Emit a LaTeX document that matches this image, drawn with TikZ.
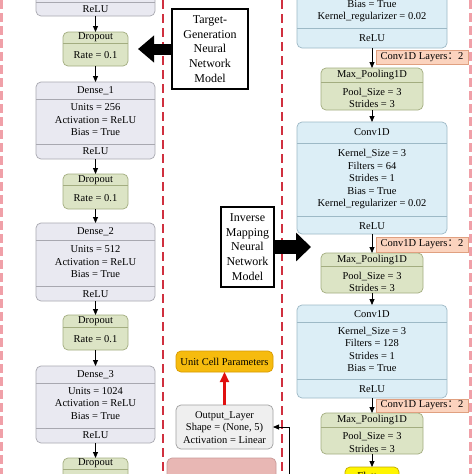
\documentclass[tikz,border=0pt]{standalone}
\usepackage{fontspec}
\setmainfont{Liberation Serif}
\newfontfamily\cjkf{Noto Sans CJK SC}
\usetikzlibrary{arrows.meta}
\definecolor{densefill}{HTML}{E9E9F1}
\definecolor{densedraw}{HTML}{A8A8B0}
\definecolor{dropfill}{HTML}{DCE4C5}
\definecolor{dropdraw}{HTML}{A3AD80}
\definecolor{convfill}{HTML}{DCEEF6}
\definecolor{convdraw}{HTML}{9DB9C6}
\definecolor{labfill}{HTML}{FBD3BE}
\definecolor{labdraw}{HTML}{E0A080}
\definecolor{outfill}{HTML}{EFEFEF}
\definecolor{outdraw}{HTML}{A0A0A0}
\definecolor{ucfill}{HTML}{F6BB0E}
\definecolor{ucdraw}{HTML}{D89A00}
\definecolor{ttfill}{HTML}{E8B7B4}
\definecolor{ttdraw}{HTML}{C99A98}
\definecolor{flatfill}{HTML}{FFF500}
\definecolor{flatdraw}{HTML}{C0A800}
\definecolor{reddash}{HTML}{D0303F}
\definecolor{pinkdash}{HTML}{F0A0A8}
\definecolor{redarr}{HTML}{E01010}
\begin{document}
\begin{tikzpicture}[x=1pt,y=-1pt,
  box/.style={rounded corners=5pt, line width=0.7pt, inner sep=0pt, outer sep=0pt},
  densebox/.style={box, draw=densedraw, fill=densefill, minimum width=119pt},
  dropbox/.style={box, draw=dropdraw, fill=dropfill, minimum width=65pt},
  convbox/.style={box, draw=convdraw, fill=convfill, minimum width=150pt},
  poolbox/.style={box, draw=dropdraw, fill=dropfill, minimum width=102pt},
  labbox/.style={draw=labdraw, fill=labfill, line width=0.7pt, minimum width=92pt, inner sep=0pt, font=\fontsize{10.5}{12.5}\selectfont},
  txt/.style={align=center, inner sep=0pt, font=\fontsize{10.5}{12.5}\selectfont},
  bigtxt/.style={draw=black, line width=1.1pt, align=center, inner sep=0pt, font=\fontsize{12}{14.6}\selectfont},
  sepd/.style={draw=densedraw, line width=0.7pt},
  sepg/.style={draw=dropdraw, line width=0.7pt},
  sepc/.style={draw=convdraw, line width=0.7pt},
  arr/.style={draw=black, line width=0.8pt, -{Triangle[length=6pt,width=5pt]}},
  bigarr/.style={draw=black, line width=11pt, -{Triangle[length=16pt,width=26pt]}},
  redarrow/.style={draw=redarr, line width=2.2pt, -{Triangle[length=10pt,width=9pt]}},
  reddashed/.style={draw=reddash, line width=1.3pt, dash pattern=on 9pt off 5pt},
  pinkdashed/.style={draw=pinkdash, line width=3pt, dash pattern=on 9pt off 4pt}
]
\useasboundingbox (0,0) rectangle (474,474);
\clip (0,0) rectangle (474,474);
\fill[white] (0,0) rectangle (474,474);

% dashed separators
\draw[pinkdashed] (1.5,0) -- (1.5,474);
\draw[pinkdashed] (470.5,0) -- (470.5,474);
\draw[reddashed] (163,0) -- (163,474);
\draw[reddashed] (282,0) -- (282,474);

%%%%% LEFT COLUMN
\node[densebox, minimum height=76pt] (D0) at (95.5,-22) {};
\draw[sepd] (36,2) -- (155,2);
\node[txt] (D0r) at (95.5,9) {ReLU};

\node[dropbox, minimum height=34pt] (DO1) at (95.5,49) {};
\node[txt] (DO1t) at (95.5,37.5) {Dropout};
\draw[sepg] (63,43.5) -- (128,43.5);
\node[txt] (DO1b) at (95.5,55.5) {Rate = 0.1};

\node[densebox, minimum height=77pt] (D1) at (95.5,120.5) {};
\node[txt] (D1t) at (95.5,91) {Dense\_1};
\draw[sepd] (36,99) -- (155,99);
\node[txt] (D1b) at (95.5,120) {Units = 256\\Activation = ReLU\\Bias = True};
\draw[sepd] (36,144) -- (155,144);
\node[txt] (D1r) at (95.5,151.5) {ReLU};

\node[dropbox, minimum height=35pt] (DO2) at (95.5,191.5) {};
\node[txt] (DO2t) at (95.5,180) {Dropout};
\draw[sepg] (63,185.5) -- (128,185.5);
\node[txt] (DO2b) at (95.5,198) {Rate = 0.1};

\node[densebox, minimum height=78pt] (D2) at (95.5,262) {};
\node[txt] (D2t) at (95.5,232) {Dense\_2};
\draw[sepd] (36,240) -- (155,240);
\node[txt] (D2b) at (95.5,262) {Units = 512\\Activation = ReLU\\Bias = True};
\draw[sepd] (36,286) -- (155,286);
\node[txt] (D2r) at (95.5,294) {ReLU};

\node[dropbox, minimum height=35pt] (DO3) at (95.5,332.5) {};
\node[txt] (DO3t) at (95.5,321) {Dropout};
\draw[sepg] (63,327) -- (128,327);
\node[txt] (DO3b) at (95.5,339.5) {Rate = 0.1};

\node[densebox, minimum height=77pt] (D3) at (95.5,404.5) {};
\node[txt] (D3t) at (95.5,375) {Dense\_3};
\draw[sepd] (36,383) -- (155,383);
\node[txt] (D3b) at (95.5,403.5) {Units = 1024\\Activation = ReLU\\Bias = True};
\draw[sepd] (36,428) -- (155,428);
\node[txt] (D3r) at (95.5,435.5) {ReLU};

\node[dropbox, minimum height=42pt] (DO4) at (95.5,479) {};
\node[txt] (DO4t) at (95.5,463.5) {Dropout};
\draw[sepg] (63,469.5) -- (128,469.5);

\draw[arr] (D0) -- (DO1);
\draw[arr] (DO1) -- (D1);
\draw[arr] (D1) -- (DO2);
\draw[arr] (DO2) -- (D2);
\draw[arr] (D2) -- (DO3);
\draw[arr] (DO3) -- (D3);
\draw[arr] (D3) -- (DO4);

%%%%% MIDDLE
\node[bigtxt, minimum width=76pt, minimum height=80pt] (TG) at (210,49) {Target-\\Generation\\Neural\\Network\\Model};
\coordinate (tgtip) at (138,49);
\draw[bigarr] (TG.west) -- (tgtip);

\node[bigtxt, minimum width=53pt, minimum height=80pt] (IM) at (247.5,247) {Inverse\\Mapping\\Neural\\Network\\Model};
\coordinate (imtip) at (311,247);
\draw[bigarr, line width=14pt, -{Triangle[length=15pt,width=28pt]}] (IM.east) -- (imtip);

\node[box, draw=ucdraw, fill=ucfill, minimum width=97pt, minimum height=21pt, txt] (UC) at (224.5,361.5) {Unit Cell Parameters};
\node[box, draw=outdraw, fill=outfill, minimum width=97pt, minimum height=44pt] (OL) at (224.5,427) {};
\node[txt] (OLt) at (224.5,427.5) {Output\_Layer\\Shape = (None, 5)\\Activation = Linear};
\draw[redarrow] (OL.north) -- (UC.south);

\node[box, draw=ttdraw, fill=ttfill, minimum width=109pt, minimum height=42pt] (TT) at (221.5,479) {};

\coordinate (fb) at (289,480);
\draw[arr] (fb) |- (OL.east);

%%%%% RIGHT COLUMN
\node[convbox, minimum height=108pt] (C0) at (372,-6) {};
\node[txt] (C0b) at (372,11) {Bias = True\\Kernel\_regularizer = 0.02};
\draw[sepc] (297,28) -- (447,28);
\node[txt] (C0r) at (372,38) {ReLU};

\node[poolbox, minimum height=42pt] (MP1) at (372,89) {};
\node[txt] (MP1t) at (372,75) {Max\_Pooling1D};
\draw[sepg] (321,82) -- (423,82);
\node[txt] (MP1b) at (372,98) {Pool\_Size = 3\\Strides = 3};

\node[convbox, minimum height=112pt] (C1) at (372,178) {};
\node[txt] (C1t) at (372,132) {Conv1D};
\draw[sepc] (297,143) -- (447,143);
\node[txt] (C1b) at (372,179) {Kernel\_Size = 3\\Filters = 64\\Strides = 1\\Bias = True\\Kernel\_regularizer = 0.02};
\draw[sepc] (297,216) -- (447,216);
\node[txt] (C1r) at (372,226) {ReLU};

\node[poolbox, minimum height=40pt] (MP2) at (372,273) {};
\node[txt] (MP2t) at (372,260) {Max\_Pooling1D};
\draw[sepg] (321,266.5) -- (423,266.5);
\node[txt] (MP2b) at (372,282) {Pool\_Size = 3\\Strides = 3};

\node[convbox, minimum height=93pt] (C2) at (372,351.5) {};
\node[txt] (C2t) at (372,314) {Conv1D};
\draw[sepc] (297,322) -- (447,322);
\node[txt] (C2b) at (372,349.5) {Kernel\_Size = 3\\Filters = 128\\Strides = 1\\Bias = True};
\draw[sepc] (297,379) -- (447,379);
\node[txt] (C2r) at (372,389) {ReLU};

\node[poolbox, minimum height=41pt] (MP3) at (372,433.5) {};
\node[txt] (MP3t) at (372,420) {Max\_Pooling1D};
\draw[sepg] (321,427) -- (423,427);
\node[txt] (MP3b) at (372,442.5) {Pool\_Size = 3\\Strides = 3};

\node[box, draw=flatdraw, fill=flatfill, minimum width=54pt, minimum height=23pt] (FL) at (372,478.5) {};
\node[txt] (FLt) at (372,475.5) {Flatten};

\draw[arr] (C0) -- (MP1);
\draw[arr] (MP1) -- (C1);
\draw[arr] (C1) -- (MP2);
\draw[arr] (MP2) -- (C2);
\draw[arr] (C2) -- (MP3);
\draw[arr] (MP3) -- (FL);

\node[labbox, minimum height=14pt] (L1) at (422,57) {Conv1D Layers{\cjkf ：}2};
\node[labbox, minimum height=15pt] (L2) at (422,244.5) {Conv1D Layers{\cjkf ：}2};
\node[labbox, minimum height=13pt] (L3) at (422,405.5) {Conv1D Layers{\cjkf ：}2};
\end{tikzpicture}
\end{document}
